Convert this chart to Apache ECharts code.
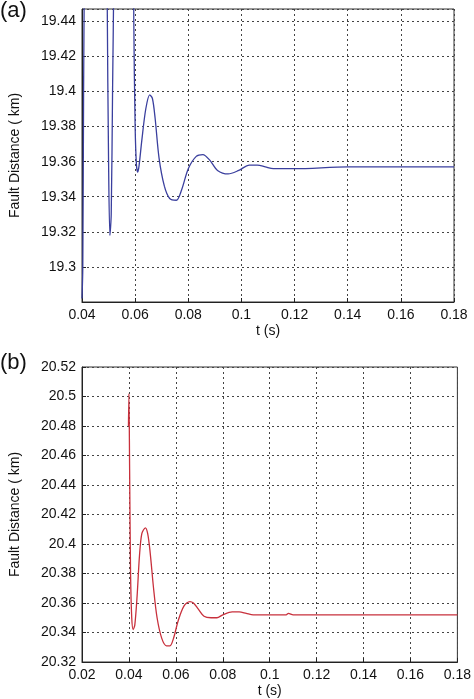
<!DOCTYPE html>
<html><head><meta charset="utf-8">
<script src="https://cdn.jsdelivr.net/npm/echarts@6/dist/echarts.min.js"></script>
<style>html,body{margin:0;padding:0;background:#fff}#c{width:474px;height:699px}</style>
</head><body><div id="c"></div>
<script>
var tA=[0.0400,0.0403,0.0406,0.0409,0.0412,0.0420,0.0490,0.0495,0.0500,0.0505,0.0510,0.0515,0.0520,0.0525,0.0590,0.0595,0.0600,0.0605,0.0610,0.0615,0.0625,0.0640,0.0655,0.0665,0.0675,0.0690,0.0710,0.0730,0.0755,0.0775,0.0800,0.0830,0.0855,0.0880,0.0910,0.0950,0.0990,0.1030,0.1060,0.1090,0.1120,0.1200,0.1400,0.1500,0.1800];
var yA=[19.282,19.30,19.40,19.47,19.52,19.60,19.60,19.45,19.36,19.318,19.33,19.40,19.47,19.60,19.60,19.44,19.38,19.358,19.354,19.358,19.372,19.390,19.398,19.396,19.385,19.362,19.346,19.339,19.338,19.344,19.356,19.363,19.364,19.361,19.355,19.353,19.355,19.358,19.358,19.357,19.356,19.356,19.357,19.357,19.357];
var tB=[0.0398,0.0400,0.0403,0.0407,0.0412,0.0418,0.0425,0.0435,0.0445,0.0455,0.0470,0.0480,0.0490,0.0505,0.0520,0.0540,0.0560,0.0575,0.0590,0.0610,0.0635,0.0660,0.0675,0.0695,0.0720,0.0750,0.0775,0.0800,0.0840,0.0870,0.0900,0.0930,0.1000,0.1070,0.1080,0.1100,0.1800];
var yB=[20.48,20.502,20.45,20.38,20.35,20.342,20.345,20.365,20.392,20.407,20.411,20.407,20.395,20.37,20.35,20.336,20.331,20.331,20.336,20.348,20.358,20.361,20.360,20.356,20.351,20.350,20.350,20.352,20.354,20.354,20.353,20.352,20.352,20.352,20.353,20.352,20.352];
var xTicksA=[0.04,0.18], xTicksB=[0.02,0.18], yRangeA=[19.28,19.447], yRangeB=[20.32,20.52];
function pairs(t,y){return t.map(function(v,i){return [v,y[i]];});}
function fmt(v){return String(+v.toFixed(2));}
var ax={fontFamily:'Liberation Sans',fontSize:14,color:'#111'};
var split={show:true,lineStyle:{type:[2,3],color:'#444',width:1}};
var chart=echarts.init(document.getElementById('c'));
chart.setOption({
 animation:false,
 graphic:[{type:'text',left:0,top:0,style:{text:'(a)',font:'22px Liberation Sans',fill:'#111'}},
          {type:'text',left:0,top:352,style:{text:'(b)',font:'22px Liberation Sans',fill:'#111'}}],
 grid:[{left:81,top:9,width:373,height:293,show:true,borderColor:'#333',borderWidth:1},{left:81,top:367,width:379,height:296,show:true,borderColor:'#333',borderWidth:1}],
 xAxis:[
  {gridIndex:0,type:'value',min:xTicksA[0],max:xTicksA[1],interval:0.02,name:'t (s)',nameLocation:'middle',nameGap:22,nameTextStyle:ax,
   axisLabel:Object.assign({formatter:fmt,margin:6},ax),axisLine:{lineStyle:{color:'#222'}},axisTick:{inside:true,length:4,lineStyle:{color:'#222'}},splitLine:split},
  {gridIndex:1,type:'value',min:xTicksB[0],max:xTicksB[1],interval:0.02,name:'t (s)',nameLocation:'middle',nameGap:22,nameTextStyle:ax,
   axisLabel:Object.assign({formatter:fmt,margin:6},ax),axisLine:{lineStyle:{color:'#222'}},axisTick:{inside:true,length:4,lineStyle:{color:'#222'}},splitLine:split}
 ],
 yAxis:[
  {gridIndex:0,type:'value',min:yRangeA[0],max:yRangeA[1],interval:0.02,showMaxLabel:false,name:'Fault Distance ( km)',nameLocation:'middle',nameGap:60,nameTextStyle:ax,
   axisLabel:Object.assign({formatter:function(v){return Math.abs(v-19.28)<1e-6?'':fmt(v);},margin:6},ax),axisLine:{show:true,lineStyle:{color:'#222'}},axisTick:{inside:true,length:4},splitLine:split},
  {gridIndex:1,type:'value',min:yRangeB[0],max:yRangeB[1],interval:0.02,name:'Fault Distance ( km)',nameLocation:'middle',nameGap:60,nameTextStyle:ax,
   axisLabel:Object.assign({formatter:fmt,margin:6},ax),axisLine:{show:true,lineStyle:{color:'#222'}},axisTick:{inside:true,length:4},splitLine:split}
 ],
 series:[
  {type:'line',xAxisIndex:0,yAxisIndex:0,data:pairs(tA,yA),smooth:0.3,showSymbol:false,clip:true,lineStyle:{color:'#3a3f9e',width:1.3}},
  {type:'line',xAxisIndex:1,yAxisIndex:1,data:pairs(tB,yB),smooth:0.3,showSymbol:false,clip:true,lineStyle:{color:'#c8303c',width:1.3}}
 ]
});
</script></body></html>
